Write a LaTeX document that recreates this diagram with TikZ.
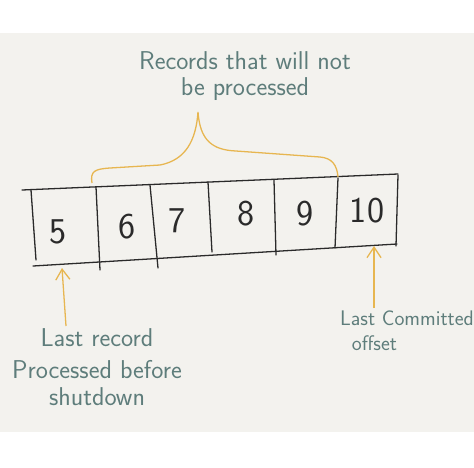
\documentclass[tikz,border=0pt]{standalone}
\usepackage{tikz}
\usetikzlibrary{arrows.meta}
\definecolor{paper}{HTML}{F3F2EE}
\definecolor{ink}{HTML}{2A2A2A}
\definecolor{marker}{HTML}{E7B650}
\definecolor{pencil}{HTML}{5E7D7B}
\tikzset{
  cellline/.style={draw=ink, line width=1.1pt, line cap=round},
  digit/.style={text=ink, font=\sffamily\fontsize{31}{31}\selectfont},
  note/.style={text=pencil, font=\sffamily\fontsize{22}{26}\selectfont, inner sep=0pt},
  pointer/.style={draw=marker, line width=1.1pt, -{Straight Barb[length=9pt,width=12pt]}}
}
\begin{document}
\begin{tikzpicture}[x=0.03cm, y=-0.03cm]
\useasboundingbox (0,0) rectangle (474,467);
\fill[paper] (0,33) rectangle (474,432);
% the strip of records
\draw[cellline] (22,190) -- (398,174);
\draw[cellline] (33,266) -- (397,244);
\foreach \xa/\ya/\xb/\yb in {31/190/36/260, 96/187/100/270, 150/185/158/268, 208/182/212/252, 274/180/276/255, 338/178/335/248, 398/175/396/246}
  \draw[cellline] (\xa,\ya) -- (\xb,\yb);
\node (5)[digit] at (58,232) {5};
\node (6)[digit] at (127,227) {6};
\node (7)[digit] at (177,221) {7};
\node (8)[digit] at (246,214) {8};
\node (9)[digit] at (305,214) {9};
\node (10)[digit] at (367,211) {10};
% brace over the unprocessed records
\draw[marker, line width=1.1pt] (92,183) .. controls (90,171) and (95,169) .. (110,168) -- (160,165)
  .. controls (186,160) and (196,140) .. (198,112)
  .. controls (200,140) and (212,150) .. (236,151) -- (320,157)
  .. controls (332,158) and (337,165) .. (338,177);
\node (rec)[note, align=center] at (245,76) {Records that will not\\[-4pt]be processed};
% pointers
\coordinate (lastrec) at (62,268);
\coordinate (lastoff) at (374,246);
\node (proc)[note, align=center, anchor=north] at (97,328) {Last record\\[2pt]Processed before\\[-3pt]shutdown};
\node (comm)[note, font=\sffamily\fontsize{18}{21}\selectfont, align=left, anchor=north west] at (340,311) {Last Committed\\\hspace{10pt}offset};
\draw[pointer] (66,326) -- (lastrec);
\draw[pointer] (374,308) -- (lastoff);
\end{tikzpicture}
\end{document}
